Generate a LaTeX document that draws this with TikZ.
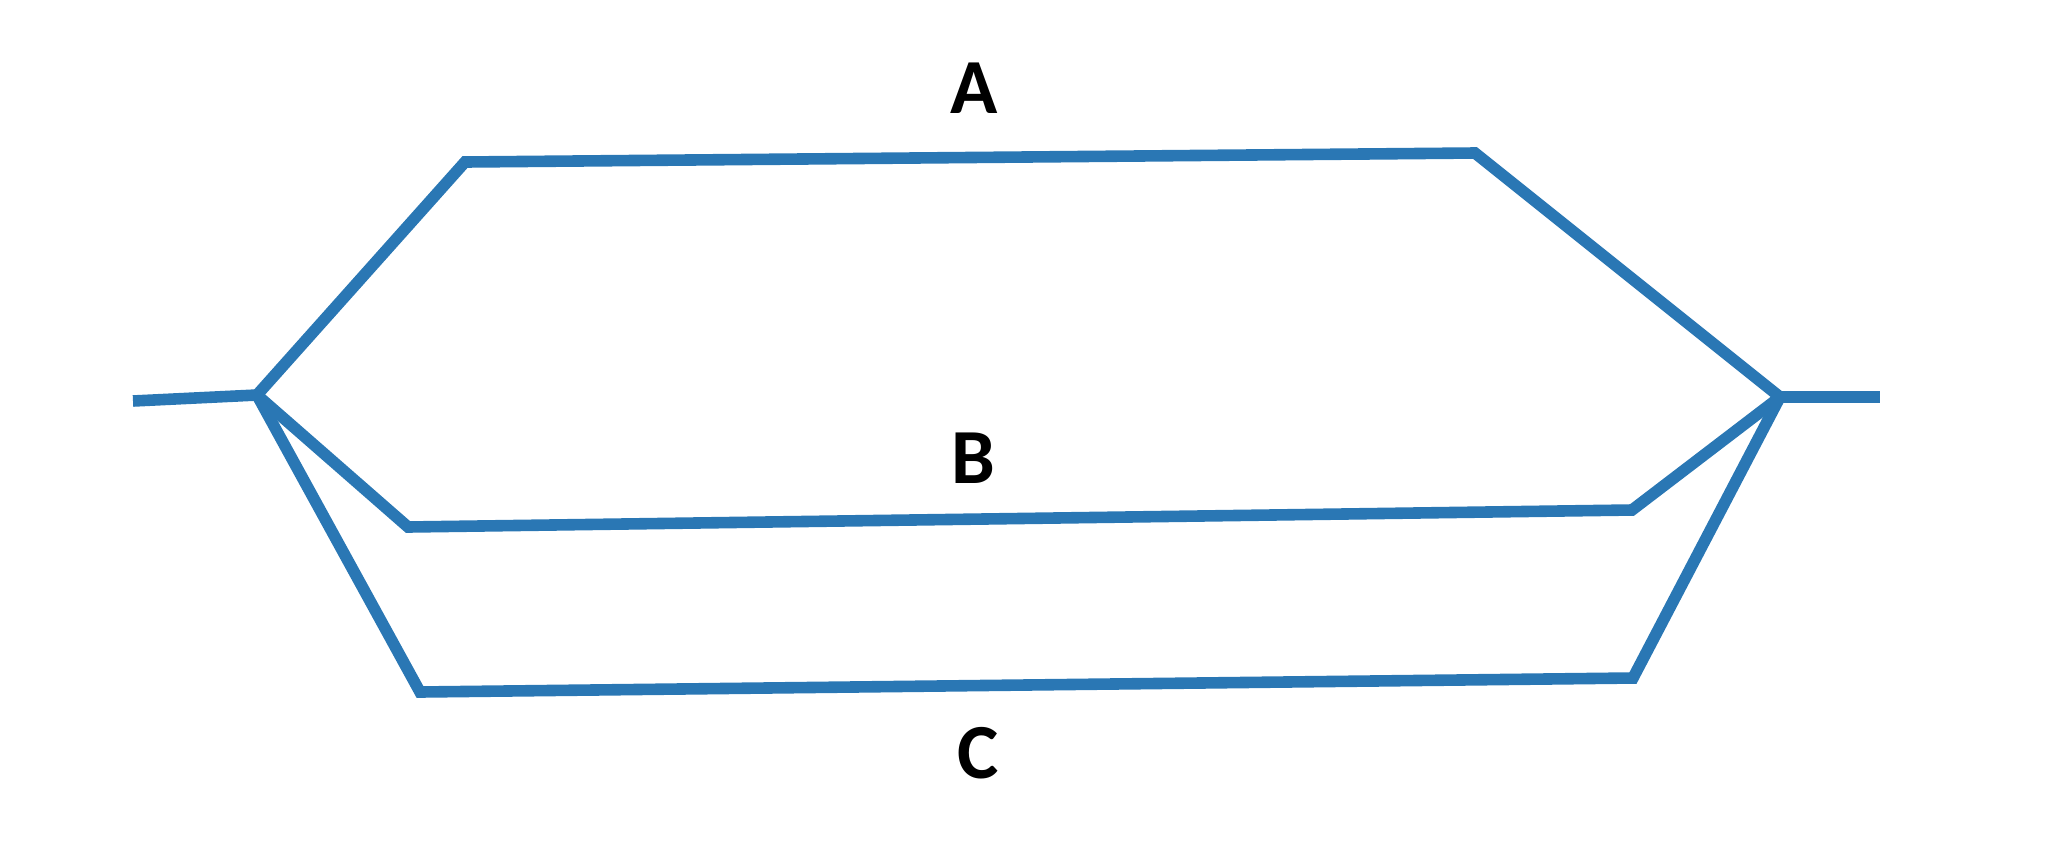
\documentclass[tikz,border=0pt]{standalone}
\usepackage{fontspec}
\setmainfont{Carlito}
\definecolor{wireblue}{RGB}{42,119,180}
\begin{document}
\begin{tikzpicture}[x=0.5pt,y=-0.5pt,
  wire/.style={draw=wireblue,line width=5.8pt,line join=miter,miter limit=3},
  lbl/.style={inner sep=0pt,font=\fontsize{39}{45}\selectfont\bfseries}]
\useasboundingbox (0,0) rectangle (2046,848);
\coordinate (inL) at (133,401);
\coordinate (jL) at (257,395);
\coordinate (jR) at (1780,397);
\coordinate (outR) at (1880,397);
\coordinate (a1) at (465,162);
\coordinate (a2) at (1475,153);
\coordinate (b1) at (408,527);
\coordinate (b2) at (1632,510);
\coordinate (c1) at (420,692);
\coordinate (c2) at (1633,678);
\draw[wire] (inL) -- (jL);
\draw[wire] (jR) -- (outR);
\draw[wire] (jL) -- (a1) -- (a2) -- (jR);
\draw[wire] (jL) -- (b1) -- (b2) -- (jR);
\draw[wire] (jL) -- (c1) -- (c2) -- (jR);
\node[lbl] (lA) at (974,88) {A};
\node[lbl] (lB) at (973,458) {B};
\node[lbl] (lC) at (978,753) {C};
\end{tikzpicture}
\end{document}
